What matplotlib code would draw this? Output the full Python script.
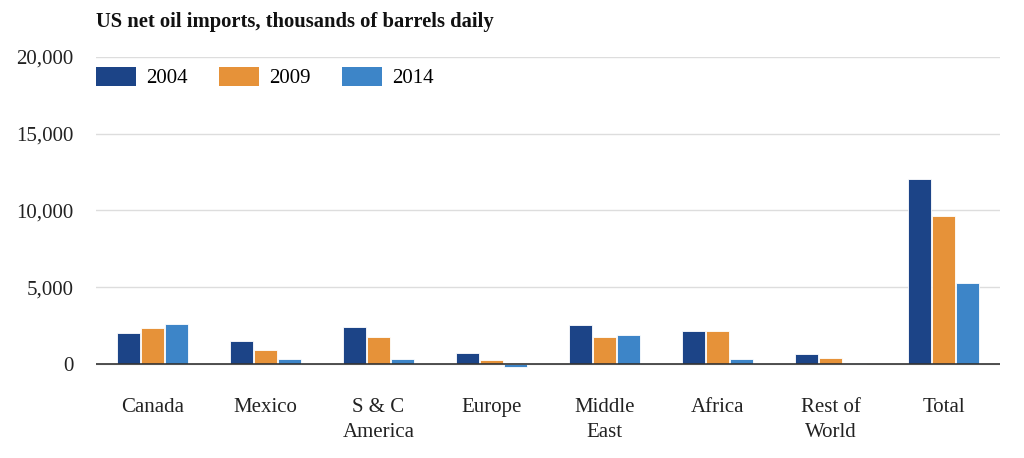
import matplotlib
matplotlib.use("Agg")
import matplotlib.pyplot as plt
import numpy as np
from matplotlib.patches import Patch

regions = ["Canada", "Mexico", "S & C\nAmerica", "Europe", "Middle\nEast", "Africa", "Rest of\nWorld", "Total"]
years = ["2004", "2009", "2014"]
imports_2004 = [1980, 1500, 2380, 720, 2560, 2120, 640, 12050]
imports_2009 = [2340, 900, 1780, 280, 1730, 2120, 370, 9620]
imports_2014 = [2600, 300, 300, -200, 1860, 300, 30, 5250]
colors = ["#1c4487", "#e69239", "#3d85c8"]

plt.rcParams["font.family"] = ["Liberation Serif", "DejaVu Serif"]

fig = plt.figure(figsize=(10.24, 4.58), dpi=100)
ax = fig.add_axes([96 / 1024, 88 / 458, 904 / 1024, 313 / 458])

x = np.arange(len(regions))
offset = 0.212
width = 0.205
for i, (vals, c) in enumerate(zip([imports_2004, imports_2009, imports_2014], colors)):
    ax.bar(x + (i - 1) * offset, vals, width, color=c, edgecolor="white", linewidth=0.6, zorder=3)

ax.set_xlim(-0.5, len(regions) - 0.5)
ax.set_ylim(-400, 20000)
ax.set_yticks([0, 5000, 10000, 15000, 20000])
ax.set_yticklabels([f"{v:,}" for v in [0, 5000, 10000, 15000, 20000]])
ax.grid(axis="y", color="#dddddd", linewidth=1, zorder=0)
ax.axhline(0, color="#333333", linewidth=1.2, zorder=4)
for s in ax.spines.values():
    s.set_visible(False)
ax.tick_params(axis="y", length=0, pad=16, labelsize=15, labelcolor="#222222")
ax.tick_params(axis="x", length=0, pad=20, labelsize=15, labelcolor="#222222")
ax.set_xticks(x)
ax.set_xticklabels(regions, linespacing=1.45, va="top")

handles = [Patch(facecolor=c, edgecolor="none") for c in colors]
ax.legend(handles, years, loc="upper left", bbox_to_anchor=(0.0, 0.968), ncol=3, frameon=False,
          fontsize=15, handlelength=1.93, handleheight=1.0, columnspacing=1.5, handletextpad=0.48,
          borderaxespad=0, borderpad=0)

fig.text(96 / 1024, 1 - 22 / 458, "US net oil imports, thousands of barrels daily",
         fontsize=14.9, fontweight="bold", va="center", ha="left", color="#111111")

fig.savefig("out.png", dpi=100)
